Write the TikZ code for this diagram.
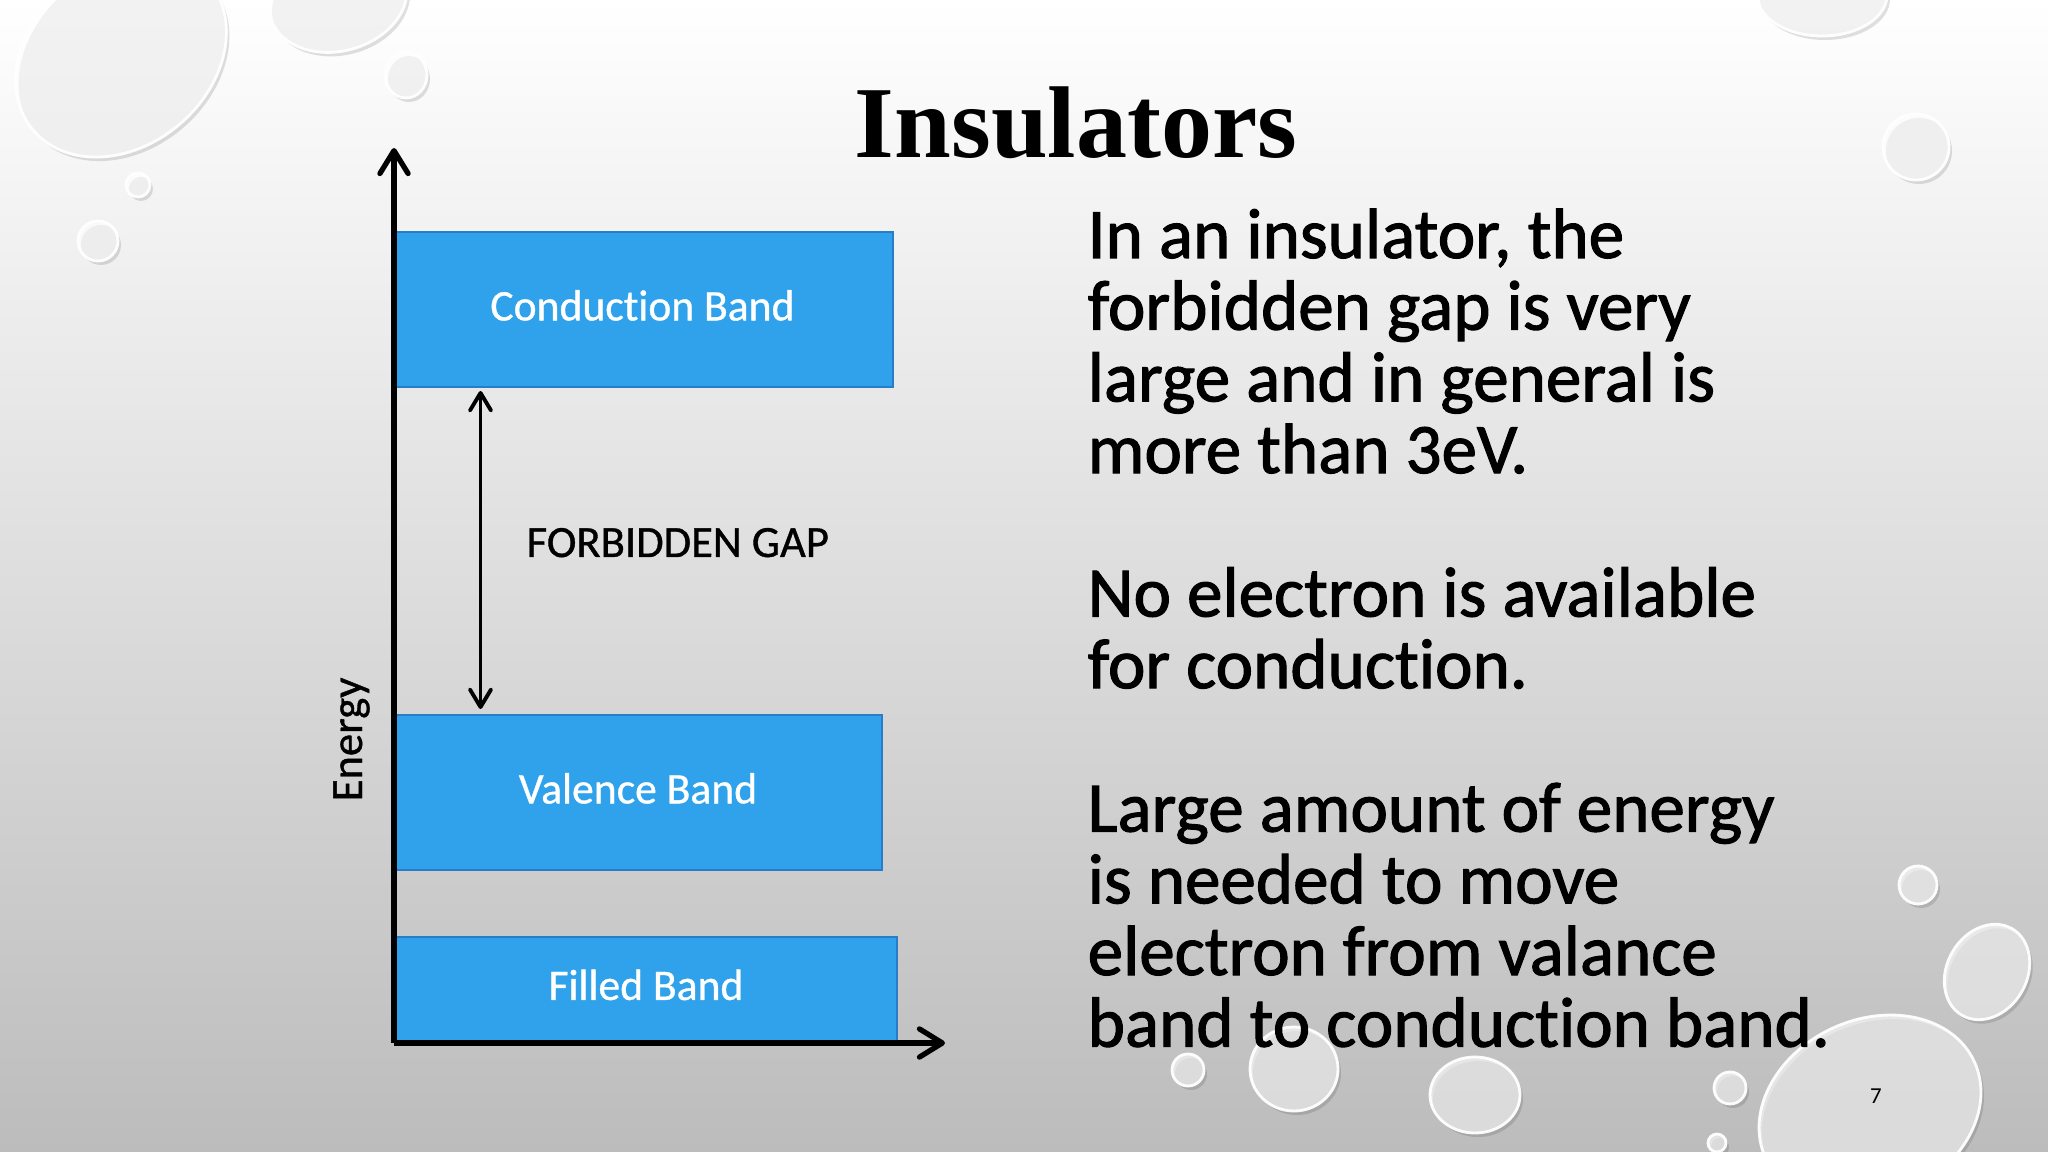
\documentclass[tikz,border=0pt]{standalone}
\usepackage{fontspec}
\setmainfont{Carlito}[Ligatures=CommonOff]
\newfontfamily\bodyfont{Carlito}[Ligatures=CommonOff,FakeBold=1.5]
\newfontfamily\labelfont{Carlito}[Ligatures=CommonOff,FakeBold=0.8]
\newfontfamily\titlefont{Liberation Serif}
\usetikzlibrary{arrows.meta}
\definecolor{bandblue}{RGB}{47,162,235}
\definecolor{bandedge}{RGB}{40,125,200}
\definecolor{bgbottom}{RGB}{188,188,188}
\definecolor{bgmid}{RGB}{232,232,232}
\newcommand{\wdrop}[5]{%
  \begin{scope}[shift={(#1+3,#2+4)},rotate=#5]
    \fill[black,opacity=0.12] (0,0) ellipse [x radius=#3,y radius=#4];
  \end{scope}
  \begin{scope}[shift={(#1,#2)},rotate=#5]
    \fill[white,opacity=0.6] (0,0) ellipse [x radius=#3,y radius=#4];
    \draw[white,opacity=0.95,line width=0.8pt] (0,0) ellipse [x radius=#3,y radius=#4];
  \end{scope}}
\begin{document}
\begin{tikzpicture}[x=0.01cm,y=-0.01cm,
  band/.style={draw=bandedge,line width=0.5pt,fill=bandblue,text=white,
    font=\labelfont\fontsize{12.4}{14}\selectfont,inner sep=0pt,text depth=2.4pt},
  axisline/.style={line width=1.5pt,black,-{Straight Barb[length=6.5pt,width=8pt,round]}},
  gaparrow/.style={line width=1.1pt,black,{Straight Barb[length=5pt,width=6pt,round]}-{Straight Barb[length=5pt,width=6pt,round]}},
  bodytext/.style={anchor=base west,inner sep=0pt,font=\bodyfont\fontsize{20.2}{20.4}\selectfont}]
\useasboundingbox (0,0) rectangle (2048,1152);
\shade[top color=white,middle color=bgmid,bottom color=bgbottom] (0,0) rectangle (2048,1152);
% droplets
\wdrop{121}{56}{115}{90}{40}
\wdrop{338}{-1}{70}{52}{15}
\wdrop{406}{75}{21}{23}{0}
\wdrop{138}{185}{12}{12}{0}
\wdrop{98}{241}{20}{20}{0}
\wdrop{1822}{-5}{65}{41}{0}
\wdrop{1916}{147}{33}{33}{0}
\wdrop{1918}{885}{19}{19}{0}
\wdrop{1987}{972}{50}{40}{60}
\wdrop{1870}{1110}{115}{90}{25}
\wdrop{1730}{1088}{16}{16}{0}
\wdrop{1717}{1143}{9}{9}{0}
\wdrop{1475}{1095}{45}{38}{0}
\wdrop{1294}{1069}{44}{42}{0}
\wdrop{1188}{1070}{16}{16}{0}
% title
\node[anchor=base,inner sep=0pt,font=\titlefont\bfseries\fontsize{29}{32}\selectfont] (title) at (1076,158) {Insulators};
% bands
\node[band,minimum width=5cm,minimum height=1.55cm] (cb) at (642.5,309.5) {Conduction Band};
\node[band,minimum width=4.88cm,minimum height=1.55cm] (vb) at (638,792.5) {Valence Band};
\node[band,minimum width=5.02cm,minimum height=1.04cm] (fb) at (646,989) {Filled Band};
% axes
\coordinate (origin) at (394,1043);
\coordinate (ytip) at (394,148);
\coordinate (xtip) at (945,1043);
\draw[axisline] (origin) -- (ytip);
\draw[axisline] (origin) -- (xtip);
% gap arrow
\coordinate (gtop) at (480.5,391);
\coordinate (gbot) at (480.5,709);
\draw[gaparrow] (gtop) -- (gbot);
\node[anchor=base west,inner sep=0pt,font=\labelfont\fontsize{12.7}{14}\selectfont] (gap) at (526,557) {FORBIDDEN GAP};
\node[anchor=base west,inner sep=0pt,rotate=90,font=\labelfont\fontsize{12.7}{14}\selectfont] (energy) at (362,802) {Energy};
% body text
\node[bodytext] (l1) at (1087,258) {In an insulator, the};
\node[bodytext] (l2) at (1087,329.7) {forbidden gap is very};
\node[bodytext] (l3) at (1087,401.4) {large and in general is};
\node[bodytext] (l4) at (1087,473.1) {more than 3eV.};
\node[bodytext] (l5) at (1087,616.5) {No electron is available};
\node[bodytext] (l6) at (1087,688.2) {for conduction.};
\node[bodytext] (l7) at (1087,831.6) {Large amount of energy};
\node[bodytext] (l8) at (1087,903.3) {is needed to move};
\node[bodytext] (l9) at (1087,975) {electron from valance};
\node[bodytext] (l10) at (1087,1046.7) {band to conduction band.};
% page number
\node[inner sep=0pt,font=\fontsize{6.5}{8}\selectfont] (pg) at (1876,1096) {7};
\end{tikzpicture}
\end{document}
